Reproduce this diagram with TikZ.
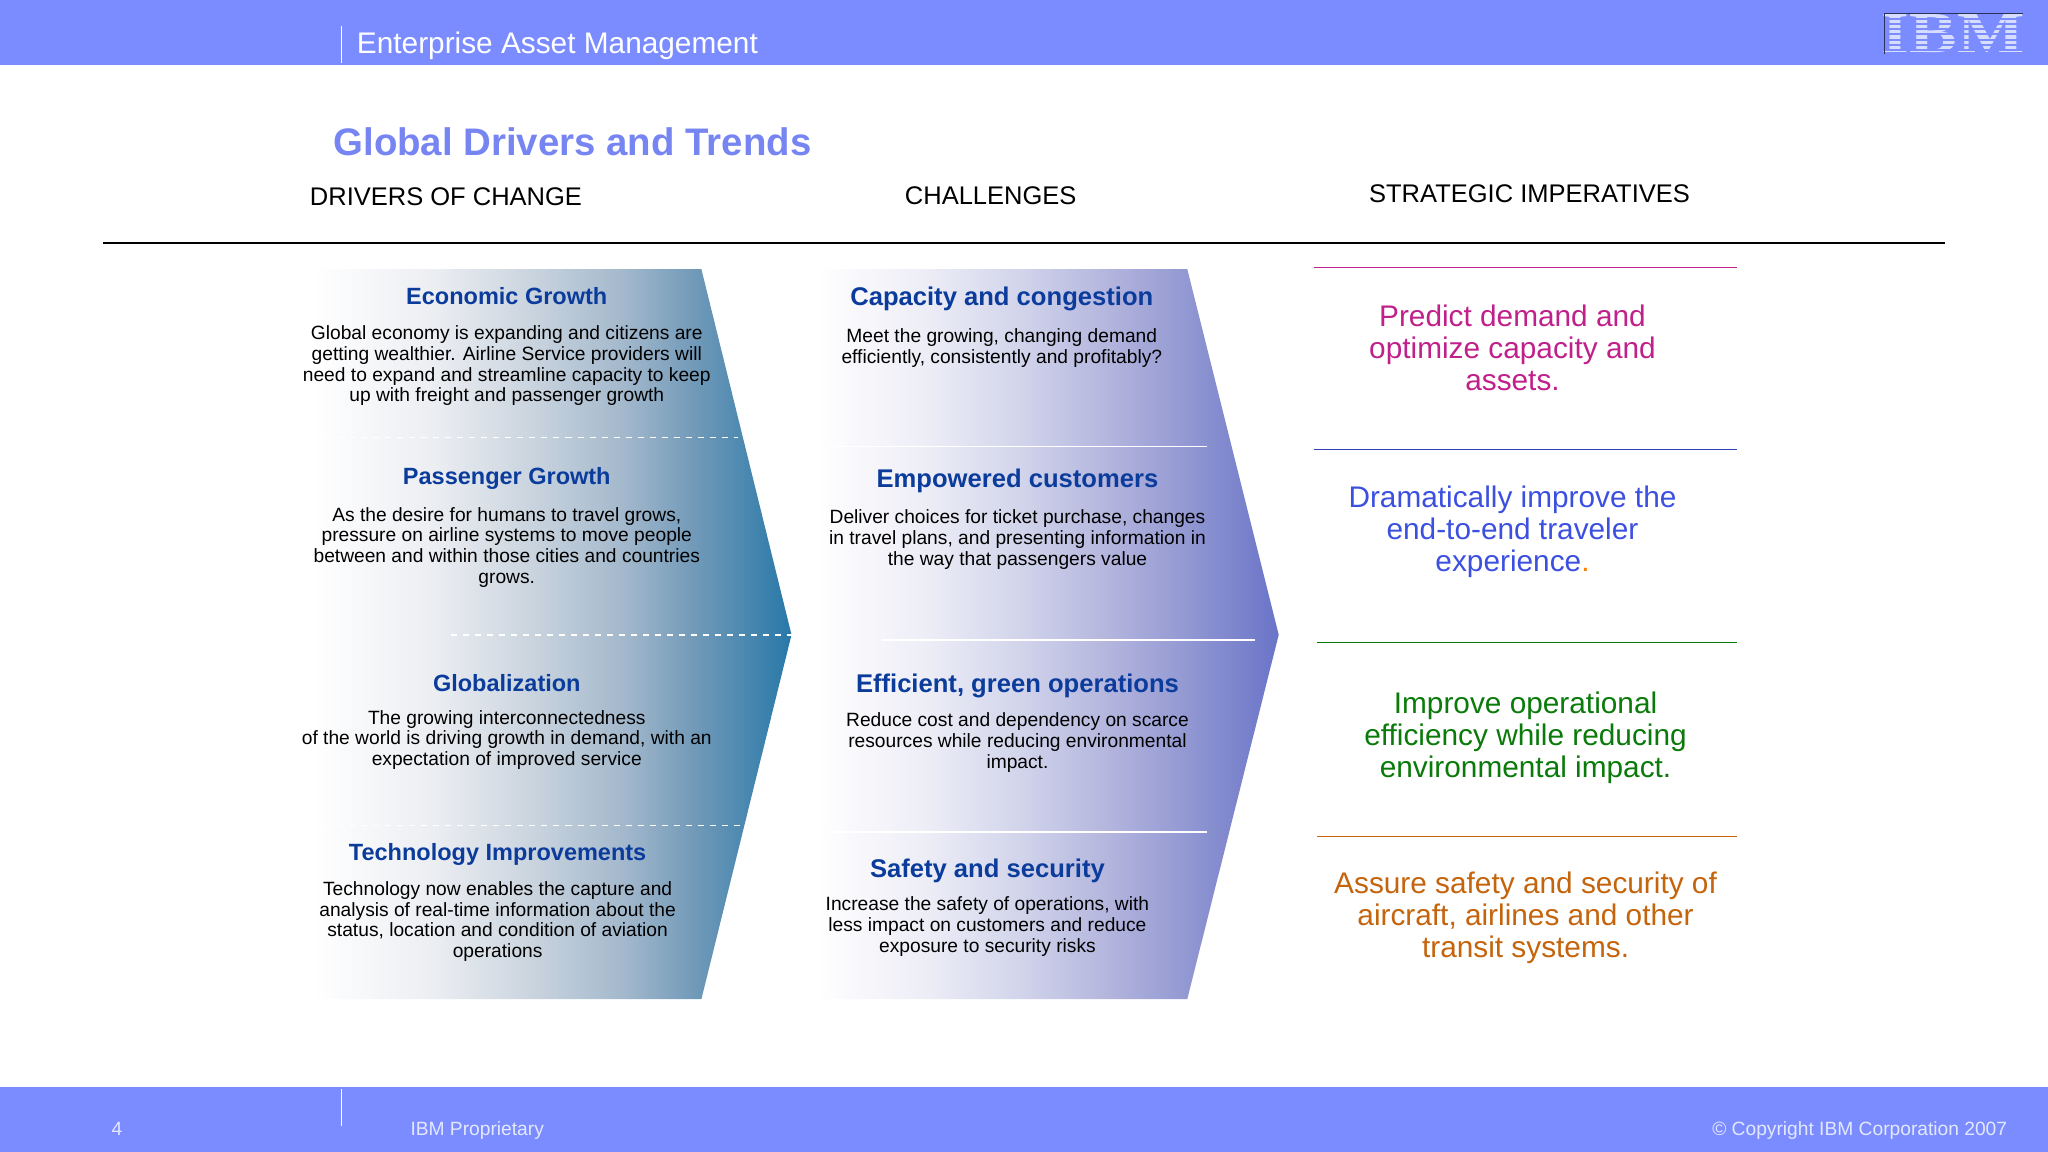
\documentclass[tikz,border=0pt]{standalone}
\usepackage{fontspec}
\setmainfont{Liberation Sans}
\newfontfamily\logofont{Liberation Serif}
\definecolor{barblue}{HTML}{7A8CFF}
\definecolor{titleblue}{HTML}{7685F2}
\definecolor{headblue}{HTML}{0B3C9C}
\definecolor{magentatxt}{HTML}{C0208A}
\definecolor{bluetxt}{HTML}{3C50E0}
\definecolor{greentxt}{HTML}{0A7A0A}
\definecolor{orangetxt}{HTML}{C4640C}
\definecolor{foottxt}{HTML}{E4E8FF}
\pgfdeclarehorizontalshading{tealfade}{100bp}{rgb(0bp)=(1,1,1); rgb(25bp)=(1,1,1); rgb(37.5bp)=(.925,.933,.949); rgb(47.5bp)=(.796,.835,.875); rgb(57.5bp)=(.639,.722,.8); rgb(65bp)=(.439,.6,.722); rgb(75bp)=(.157,.471,.659); rgb(100bp)=(.157,.471,.659)}
\pgfdeclarehorizontalshading{violetfade}{100bp}{rgb(0bp)=(1,1,1); rgb(25bp)=(1,1,1); rgb(37.5bp)=(.925,.925,.965); rgb(47.5bp)=(.816,.827,.918); rgb(57.5bp)=(.69,.698,.863); rgb(65bp)=(.573,.596,.824); rgb(75bp)=(.416,.455,.784); rgb(100bp)=(.416,.455,.784)}
\tikzset{
	headL/.style={inner sep=0pt,font=\fontsize{11.75}{13}\selectfont\bfseries,text=headblue},
	headM/.style={inner sep=0pt,font=\fontsize{12.8}{14}\selectfont\bfseries,text=headblue},
	bodytxt/.style={inner sep=0pt,align=center,font=\fontsize{9.6}{10.4}\selectfont},
	imptxt/.style={inner sep=0pt,align=center,font=\fontsize{14.9}{16}\selectfont},
	coltxt/.style={inner sep=0pt,font=\fontsize{12.75}{14}\selectfont},
	foot/.style={inner sep=0pt,text=foottxt,font=\fontsize{9.6}{11}\selectfont},
}
\begin{document}
\begin{tikzpicture}[x=0.653pt,y=-0.653pt,line join=round]
	\useasboundingbox (0,0) rectangle (1568,882);
	\fill[barblue] (0,0) rectangle (1568,49.5);
	\fill[barblue] (0,832.5) rectangle (1568,882);
	\draw[white] (261,20)--(261,48) (261,834)--(261,862);
	\node[inner sep=0pt,anchor=west,text=white,font=\fontsize{14.9}{16}\selectfont] (product) at (273,35) {Enterprise Asset Management};
	% logo
	\node[inner sep=0pt,text=white!70!barblue,font=\fontsize{29}{30}\logofont\bfseries,xscale=1.23] (logo) at (1495.5,26) {IBM};
	\foreach \y in {13.5,17.5,...,41.5}
		\fill[barblue] (1438,\y) rectangle (1552,\y+1.6);
	\draw[black!65!barblue] (1442.5,41.5)--(1442.5,10)--(1549,10);
	% titles
	\node[inner sep=0pt,anchor=west,text=titleblue,font=\fontsize{19.2}{22}\selectfont\bfseries] (title) at (255,108.5) {Global Drivers and Trends};
	\node[coltxt,anchor=west] (drivers) at (237,150.5) {DRIVERS OF CHANGE};
	\node[coltxt] (challenges) at (758.5,149.5) {CHALLENGES};
	\node[coltxt] (imperatives) at (1171,148.5) {STRATEGIC IMPERATIVES};
	\draw[black,line width=0.65pt] (79,186)--(1489,186);
	% chevrons
	\shade[shading=tealfade] (240,206)--(537,206)--(606,486)--(537,765)--(240,765)--cycle;
	\shade[shading=violetfade] (625,206)--(909,206)--(979,486)--(909,765)--(625,765)--cycle;
	\draw[white,line width=0.75pt,dashed] (240,335)--(565,335) (345,486)--(606,486) (240,632)--(570,632);
	\draw[white,line width=0.6pt] (625,342)--(924,342) (675,490)--(961,490) (625,637)--(924,637);
	% drivers
	\node[headL] (growth) at (388,227) {Economic Growth};
	\node[bodytxt] (growthtxt) at (388,280) {Global economy is expanding and citizens are\\getting wealthier. Airline Service providers will\\need to expand and streamline capacity to keep\\up with freight and passenger growth};
	\node[headL] (passenger) at (388,366) {Passenger Growth};
	\node[bodytxt] (passengertxt) at (388,419) {As the desire for humans to travel grows,\\pressure on airline systems to move people\\between and within those cities and countries\\grows.};
	\node[headL] (global) at (388,523) {Globalization};
	\node[bodytxt] (globaltxt) at (388,566.5) {The growing interconnectedness\\of the world is driving growth in demand, with an\\expectation of improved service};
	\node[headL] (tech) at (381,654) {Technology Improvements};
	\node[bodytxt] (techtxt) at (381,705.5) {Technology now enables the capture and\\analysis of real-time information about the\\status, location and condition of aviation\\operations};
	% challenges
	\node[headM] (capacity) at (767,229) {Capacity and congestion};
	\node[bodytxt] (capacitytxt) at (767,266.5) {Meet the growing, changing demand\\efficiently, consistently and profitably?};
	\node[headM] (customers) at (779,368) {Empowered customers};
	\node[bodytxt] (customerstxt) at (779,413) {Deliver choices for ticket purchase, changes\\in travel plans, and presenting information in\\the way that passengers value};
	\node[headM] (green) at (779,525.5) {Efficient, green operations};
	\node[bodytxt] (greentxt) at (779,568.5) {Reduce cost and dependency on scarce\\resources while reducing environmental\\impact.};
	\node[headM] (safety) at (756,666.5) {Safety and security};
	\node[bodytxt] (safetytxt) at (756,709.5) {Increase the safety of operations, with\\less impact on customers and reduce\\exposure to security risks};
	% imperatives
	\draw[magentatxt] (1006,205)--(1330,205);
	\draw[bluetxt!80!black] (1006,344)--(1330,344);
	\draw[greentxt] (1008,492)--(1330,492);
	\draw[orangetxt] (1008,640)--(1330,640);
	\node[imptxt,text=magentatxt] (predict) at (1158,266) {Predict demand and\\optimize capacity and\\assets.};
	\node[imptxt,text=bluetxt] (traveler) at (1158,407) {Dramatically improve the\\end-to-end traveler\\experience{\color{orange}.}};
	\node[imptxt,text=greentxt] (efficiency) at (1168,564.5) {Improve operational\\efficiency while reducing\\environmental impact.};
	\node[imptxt,text=orangetxt] (safe) at (1168,703) {Assure safety and security of\\aircraft, airlines and other\\transit systems.};
	% footer
	\node[foot] (page) at (89.5,864) {4};
	\node[foot,anchor=west] (proprietary) at (314,865.5) {IBM Proprietary};
	\node[foot,anchor=east] (copyright) at (1537,865.5) {© Copyright IBM Corporation 2007};
\end{tikzpicture}
\end{document}
